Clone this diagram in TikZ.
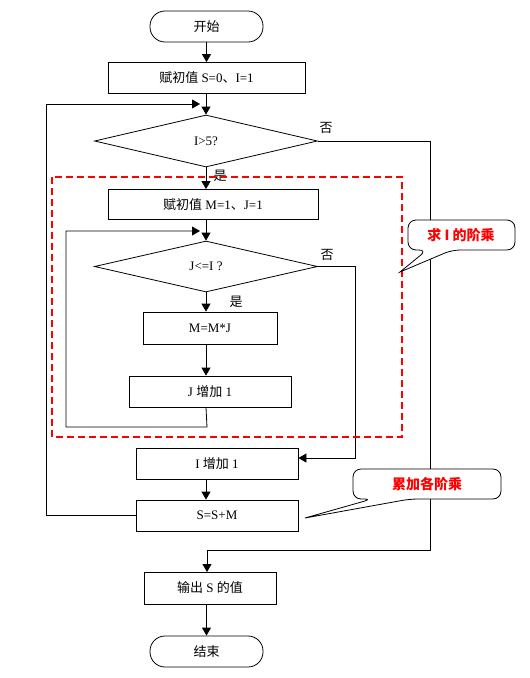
\documentclass[tikz,border=0pt]{standalone}
\usepackage{fontspec}
\setmainfont{Liberation Serif}
\newfontfamily\cjk{Noto Sans CJK SC}
\newcommand{\zh}[1]{{\cjk #1}}
\usetikzlibrary{arrows.meta,shapes.geometric}
\tikzset{
	box/.style={draw,rectangle,inner sep=0pt,minimum height=31pt},
	term/.style={draw,rectangle,rounded corners=15pt,inner sep=0pt,minimum width=113pt,minimum height=31pt},
	test/.style={draw,diamond,inner sep=0pt,aspect=4.3,minimum width=223pt,minimum height=52pt},
	note/.style={fill=white,draw,rounded corners=8pt},
}
\begin{document}
\begin{tikzpicture}[x=1pt,y=-1pt,line width=0.8pt,>={Triangle[length=8pt,width=9pt]},font=\fontsize{13}{15}\selectfont]
	\useasboundingbox[fill=white] (0,0) rectangle (530,678) ;
	\node[term] (start) at (206.5,26.5) {\zh{开始}} ;
	\node[box,minimum width=197pt] (init) at (206.5,78) {\zh{赋初值} S=0\zh{、}I=1} ;
	\node[test] (cond1) at (206,141) {I>5?} ;
	\node[box,minimum width=210pt,minimum height=30pt] (init2) at (213,204.5) {\zh{赋初值} M=1\zh{、}J=1} ;
	\node[test,minimum height=51pt] (cond2) at (206,266.5) {J<=I ?} ;
	\node[box,minimum width=134pt,minimum height=32pt] (mult) at (210,328) {M=M*J} ;
	\node[box,minimum width=162pt] (jinc) at (210,391.5) {J \zh{增加} 1} ;
	\node[box,minimum width=162pt] (iinc) at (217,463.5) {I \zh{增加} 1} ;
	\node[box,minimum width=162pt] (ssum) at (217,515.5) {S=S+M} ;
	\node[box,minimum width=132pt,minimum height=32pt] (out) at (210,588) {\zh{输出} S \zh{的值}} ;
	\node[term] (stop) at (206.5,651.5) {\zh{结束}} ;
	\coordinate (j1) at (200,104) ; \coordinate (j2) at (200,231) ;
	\draw[->] (start) -- (init) ;
	\draw[->] (init.south -| cond1.north) -- (cond1.north) ;
	\draw[->] (cond1.south) -- (cond1.south |- init2.north) ;
	\draw[->] (init2.south -| cond2.north) -- (cond2.north) ;
	\draw[->] (cond2.south) -- (cond2.south |- mult.north) ;
	\draw[->] (mult.south -| cond2.south) -- (cond2.south |- jinc.north) ;
	\draw[->] (iinc.south -| cond2.south) -- (cond2.south |- ssum.north) ;
	\draw[->] (out.south -| stop.north) -- (stop.north) ;
	\draw[->] (jinc.south -| cond2.south) -- (207,427) -- (66,427) -- (66,231) -- (j2) ;
	\draw[->] (ssum.west) -| (46,104) -- (j1) ;
	\draw[->] (cond2.east) -- (355,266.5) -- (355,458) -- (iinc.east |- 0,458) ;
	\draw[->] (cond1.east) -- (430,141) -- (430,550) -- (207,550) -- (207,572) ;
	\node (no1) at (326,128) {\zh{否}} ; \node (yes1) at (220,176) {\zh{是}} ;
	\node (no2) at (327,255) {\zh{否}} ; \node (yes2) at (236,302) {\zh{是}} ;
	\draw[red,line width=1.5pt,dash pattern=on 7pt off 4pt] (52,177) rectangle (402,437) ;
	\draw[note] (400,272) -- (427,250) -- (408,250) -- (408,220) -- (515,220) -- (515,250) -- (452,250) [sharp corners] -- cycle ;
	\node[red,font=\cjk\bfseries\fontsize{14}{16}\selectfont] (note1) at (461,235) {求 I 的阶乘} ;
	\draw[note] (305,518) -- (372,499) -- (353,499) -- (353,469) -- (501,469) -- (501,499) -- (410,499) [sharp corners] -- cycle ;
	\node[red,font=\cjk\bfseries\fontsize{14}{16}\selectfont] (note2) at (427,484) {累加各阶乘} ;
\end{tikzpicture}
\end{document}
